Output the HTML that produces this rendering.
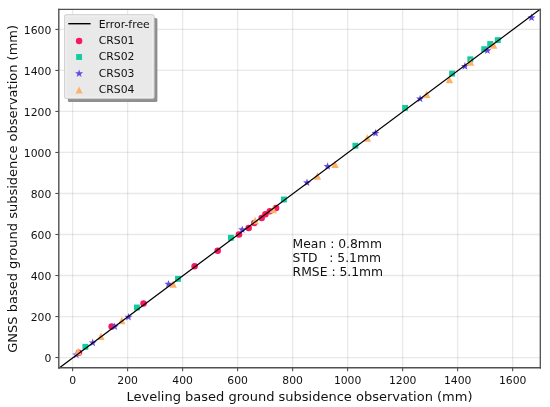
<!DOCTYPE html>
<html><head><meta charset="utf-8"><style>
html,body{margin:0;padding:0;background:#fff;}
svg{display:block;filter:blur(0.3px);}
text{font-family:"DejaVu Sans","Liberation Sans",sans-serif;fill:#111;}
</style></head><body>
<svg width="550" height="407" viewBox="0 0 550 407">
<defs><filter id="sh" x="-10%" y="-10%" width="120%" height="120%"><feGaussianBlur stdDeviation="0.5"/></filter></defs>
<rect width="550" height="407" fill="#fff"/>
<line x1="72.60" y1="8.9" x2="72.60" y2="367.8" stroke="#b0b0b0" stroke-opacity="0.28" stroke-width="1.3"/>
<line x1="58.85" y1="357.55" x2="540.15" y2="357.55" stroke="#b0b0b0" stroke-opacity="0.28" stroke-width="1.3"/>
<line x1="127.61" y1="8.9" x2="127.61" y2="367.8" stroke="#b0b0b0" stroke-opacity="0.28" stroke-width="1.3"/>
<line x1="58.85" y1="316.53" x2="540.15" y2="316.53" stroke="#b0b0b0" stroke-opacity="0.28" stroke-width="1.3"/>
<line x1="182.61" y1="8.9" x2="182.61" y2="367.8" stroke="#b0b0b0" stroke-opacity="0.28" stroke-width="1.3"/>
<line x1="58.85" y1="275.51" x2="540.15" y2="275.51" stroke="#b0b0b0" stroke-opacity="0.28" stroke-width="1.3"/>
<line x1="237.62" y1="8.9" x2="237.62" y2="367.8" stroke="#b0b0b0" stroke-opacity="0.28" stroke-width="1.3"/>
<line x1="58.85" y1="234.49" x2="540.15" y2="234.49" stroke="#b0b0b0" stroke-opacity="0.28" stroke-width="1.3"/>
<line x1="292.62" y1="8.9" x2="292.62" y2="367.8" stroke="#b0b0b0" stroke-opacity="0.28" stroke-width="1.3"/>
<line x1="58.85" y1="193.48" x2="540.15" y2="193.48" stroke="#b0b0b0" stroke-opacity="0.28" stroke-width="1.3"/>
<line x1="347.63" y1="8.9" x2="347.63" y2="367.8" stroke="#b0b0b0" stroke-opacity="0.28" stroke-width="1.3"/>
<line x1="58.85" y1="152.46" x2="540.15" y2="152.46" stroke="#b0b0b0" stroke-opacity="0.28" stroke-width="1.3"/>
<line x1="402.64" y1="8.9" x2="402.64" y2="367.8" stroke="#b0b0b0" stroke-opacity="0.28" stroke-width="1.3"/>
<line x1="58.85" y1="111.44" x2="540.15" y2="111.44" stroke="#b0b0b0" stroke-opacity="0.28" stroke-width="1.3"/>
<line x1="457.64" y1="8.9" x2="457.64" y2="367.8" stroke="#b0b0b0" stroke-opacity="0.28" stroke-width="1.3"/>
<line x1="58.85" y1="70.43" x2="540.15" y2="70.43" stroke="#b0b0b0" stroke-opacity="0.28" stroke-width="1.3"/>
<line x1="512.65" y1="8.9" x2="512.65" y2="367.8" stroke="#b0b0b0" stroke-opacity="0.28" stroke-width="1.3"/>
<line x1="58.85" y1="29.41" x2="540.15" y2="29.41" stroke="#b0b0b0" stroke-opacity="0.28" stroke-width="1.3"/>
<circle cx="78.90" cy="352.80" r="3.25" fill="#f8165e"/>
<circle cx="111.60" cy="326.60" r="3.25" fill="#f8165e"/>
<circle cx="143.50" cy="303.60" r="3.25" fill="#f8165e"/>
<circle cx="194.60" cy="266.30" r="3.25" fill="#f8165e"/>
<circle cx="217.70" cy="250.80" r="3.25" fill="#f8165e"/>
<circle cx="239.00" cy="234.40" r="3.25" fill="#f8165e"/>
<circle cx="248.70" cy="228.10" r="3.25" fill="#f8165e"/>
<circle cx="254.30" cy="223.00" r="3.25" fill="#f8165e"/>
<circle cx="261.70" cy="217.90" r="3.25" fill="#f8165e"/>
<circle cx="265.40" cy="214.20" r="3.25" fill="#f8165e"/>
<circle cx="269.80" cy="211.20" r="3.25" fill="#f8165e"/>
<circle cx="276.10" cy="207.90" r="3.25" fill="#f8165e"/>
<rect x="82.45" y="343.85" width="5.90" height="5.90" fill="#12cb9f"/>
<rect x="133.95" y="304.55" width="5.90" height="5.90" fill="#12cb9f"/>
<rect x="175.05" y="275.95" width="5.90" height="5.90" fill="#12cb9f"/>
<rect x="227.95" y="234.85" width="5.90" height="5.90" fill="#12cb9f"/>
<rect x="280.95" y="196.55" width="5.90" height="5.90" fill="#12cb9f"/>
<rect x="352.45" y="142.75" width="5.90" height="5.90" fill="#12cb9f"/>
<rect x="402.15" y="104.95" width="5.90" height="5.90" fill="#12cb9f"/>
<rect x="449.15" y="70.65" width="5.90" height="5.90" fill="#12cb9f"/>
<rect x="467.35" y="56.35" width="5.90" height="5.90" fill="#12cb9f"/>
<rect x="481.25" y="46.25" width="5.90" height="5.90" fill="#12cb9f"/>
<rect x="487.25" y="41.05" width="5.90" height="5.90" fill="#12cb9f"/>
<rect x="494.85" y="37.15" width="5.90" height="5.90" fill="#12cb9f"/>
<polygon points="76.30,350.60 77.31,353.41 80.29,353.50 77.94,355.33 78.77,358.20 76.30,356.52 73.83,358.20 74.66,355.33 72.31,353.50 75.29,353.41" fill="#6847ea"/>
<polygon points="92.70,338.60 93.71,341.41 96.69,341.50 94.34,343.33 95.17,346.20 92.70,344.52 90.23,346.20 91.06,343.33 88.71,341.50 91.69,341.41" fill="#6847ea"/>
<polygon points="114.70,322.40 115.71,325.21 118.69,325.30 116.34,327.13 117.17,330.00 114.70,328.32 112.23,330.00 113.06,327.13 110.71,325.30 113.69,325.21" fill="#6847ea"/>
<polygon points="128.50,312.90 129.51,315.71 132.49,315.80 130.14,317.63 130.97,320.50 128.50,318.82 126.03,320.50 126.86,317.63 124.51,315.80 127.49,315.71" fill="#6847ea"/>
<polygon points="168.50,279.90 169.51,282.71 172.49,282.80 170.14,284.63 170.97,287.50 168.50,285.82 166.03,287.50 166.86,284.63 164.51,282.80 167.49,282.71" fill="#6847ea"/>
<polygon points="242.20,225.40 243.21,228.21 246.19,228.30 243.84,230.13 244.67,233.00 242.20,231.32 239.73,233.00 240.56,230.13 238.21,228.30 241.19,228.21" fill="#6847ea"/>
<polygon points="307.00,178.50 308.01,181.31 310.99,181.40 308.64,183.23 309.47,186.10 307.00,184.42 304.53,186.10 305.36,183.23 303.01,181.40 305.99,181.31" fill="#6847ea"/>
<polygon points="327.60,162.20 328.61,165.01 331.59,165.10 329.24,166.93 330.07,169.80 327.60,168.12 325.13,169.80 325.96,166.93 323.61,165.10 326.59,165.01" fill="#6847ea"/>
<polygon points="375.50,129.00 376.51,131.81 379.49,131.90 377.14,133.73 377.97,136.60 375.50,134.92 373.03,136.60 373.86,133.73 371.51,131.90 374.49,131.81" fill="#6847ea"/>
<polygon points="420.10,94.70 421.11,97.51 424.09,97.60 421.74,99.43 422.57,102.30 420.10,100.62 417.63,102.30 418.46,99.43 416.11,97.60 419.09,97.51" fill="#6847ea"/>
<polygon points="464.90,62.10 465.91,64.91 468.89,65.00 466.54,66.83 467.37,69.70 464.90,68.02 462.43,69.70 463.26,66.83 460.91,65.00 463.89,64.91" fill="#6847ea"/>
<polygon points="487.40,46.40 488.41,49.21 491.39,49.30 489.04,51.13 489.87,54.00 487.40,52.32 484.93,54.00 485.76,51.13 483.41,49.30 486.39,49.21" fill="#6847ea"/>
<polygon points="531.50,13.50 532.51,16.31 535.49,16.40 533.14,18.23 533.97,21.10 531.50,19.42 529.03,21.10 529.86,18.23 527.51,16.40 530.49,16.31" fill="#6847ea"/>
<polygon points="78.10,347.85 74.35,355.35 81.85,355.35" fill="#fdb26b"/>
<polygon points="100.90,332.55 97.15,340.05 104.65,340.05" fill="#fdb26b"/>
<polygon points="121.80,316.65 118.05,324.15 125.55,324.15" fill="#fdb26b"/>
<polygon points="173.20,280.25 169.45,287.75 176.95,287.75" fill="#fdb26b"/>
<polygon points="255.20,216.85 251.45,224.35 258.95,224.35" fill="#fdb26b"/>
<polygon points="273.10,205.85 269.35,213.35 276.85,213.35" fill="#fdb26b"/>
<polygon points="317.40,172.25 313.65,179.75 321.15,179.75" fill="#fdb26b"/>
<polygon points="335.00,160.45 331.25,167.95 338.75,167.95" fill="#fdb26b"/>
<polygon points="367.30,134.25 363.55,141.75 371.05,141.75" fill="#fdb26b"/>
<polygon points="426.70,90.55 422.95,98.05 430.45,98.05" fill="#fdb26b"/>
<polygon points="449.40,75.75 445.65,83.25 453.15,83.25" fill="#fdb26b"/>
<polygon points="470.50,58.35 466.75,65.85 474.25,65.85" fill="#fdb26b"/>
<polygon points="493.60,41.25 489.85,48.75 497.35,48.75" fill="#fdb26b"/>
<line x1="58.85" y1="368.25" x2="540.15" y2="9.3" stroke="#000" stroke-width="1.25"/>
<line x1="58.3" y1="9.45" x2="540.8" y2="9.45" stroke="#505050" stroke-width="1.2"/>
<line x1="58.1" y1="367.75" x2="541.0" y2="367.75" stroke="#505050" stroke-width="1.5"/>
<line x1="58.8" y1="8.7" x2="58.8" y2="368.5" stroke="#505050" stroke-width="1.4"/>
<line x1="540.3" y1="8.7" x2="540.3" y2="368.5" stroke="#505050" stroke-width="1.3"/>
<line x1="72.60" y1="367.8" x2="72.60" y2="371.3" stroke="#505050" stroke-width="1.1"/>
<line x1="58.85" y1="357.55" x2="55.35" y2="357.55" stroke="#505050" stroke-width="1.1"/>
<text x="72.60" y="383.5" text-anchor="middle" font-size="10.8">0</text>
<text x="51.3" y="362.05" text-anchor="end" font-size="10.8">0</text>
<line x1="127.61" y1="367.8" x2="127.61" y2="371.3" stroke="#505050" stroke-width="1.1"/>
<line x1="58.85" y1="316.53" x2="55.35" y2="316.53" stroke="#505050" stroke-width="1.1"/>
<text x="127.61" y="383.5" text-anchor="middle" font-size="10.8">200</text>
<text x="51.3" y="321.03" text-anchor="end" font-size="10.8">200</text>
<line x1="182.61" y1="367.8" x2="182.61" y2="371.3" stroke="#505050" stroke-width="1.1"/>
<line x1="58.85" y1="275.51" x2="55.35" y2="275.51" stroke="#505050" stroke-width="1.1"/>
<text x="182.61" y="383.5" text-anchor="middle" font-size="10.8">400</text>
<text x="51.3" y="280.01" text-anchor="end" font-size="10.8">400</text>
<line x1="237.62" y1="367.8" x2="237.62" y2="371.3" stroke="#505050" stroke-width="1.1"/>
<line x1="58.85" y1="234.49" x2="55.35" y2="234.49" stroke="#505050" stroke-width="1.1"/>
<text x="237.62" y="383.5" text-anchor="middle" font-size="10.8">600</text>
<text x="51.3" y="238.99" text-anchor="end" font-size="10.8">600</text>
<line x1="292.62" y1="367.8" x2="292.62" y2="371.3" stroke="#505050" stroke-width="1.1"/>
<line x1="58.85" y1="193.48" x2="55.35" y2="193.48" stroke="#505050" stroke-width="1.1"/>
<text x="292.62" y="383.5" text-anchor="middle" font-size="10.8">800</text>
<text x="51.3" y="197.98" text-anchor="end" font-size="10.8">800</text>
<line x1="347.63" y1="367.8" x2="347.63" y2="371.3" stroke="#505050" stroke-width="1.1"/>
<line x1="58.85" y1="152.46" x2="55.35" y2="152.46" stroke="#505050" stroke-width="1.1"/>
<text x="347.63" y="383.5" text-anchor="middle" font-size="10.8">1000</text>
<text x="51.3" y="156.96" text-anchor="end" font-size="10.8">1000</text>
<line x1="402.64" y1="367.8" x2="402.64" y2="371.3" stroke="#505050" stroke-width="1.1"/>
<line x1="58.85" y1="111.44" x2="55.35" y2="111.44" stroke="#505050" stroke-width="1.1"/>
<text x="402.64" y="383.5" text-anchor="middle" font-size="10.8">1200</text>
<text x="51.3" y="115.94" text-anchor="end" font-size="10.8">1200</text>
<line x1="457.64" y1="367.8" x2="457.64" y2="371.3" stroke="#505050" stroke-width="1.1"/>
<line x1="58.85" y1="70.43" x2="55.35" y2="70.43" stroke="#505050" stroke-width="1.1"/>
<text x="457.64" y="383.5" text-anchor="middle" font-size="10.8">1400</text>
<text x="51.3" y="74.93" text-anchor="end" font-size="10.8">1400</text>
<line x1="512.65" y1="367.8" x2="512.65" y2="371.3" stroke="#505050" stroke-width="1.1"/>
<line x1="58.85" y1="29.41" x2="55.35" y2="29.41" stroke="#505050" stroke-width="1.1"/>
<text x="512.65" y="383.5" text-anchor="middle" font-size="10.8">1600</text>
<text x="51.3" y="33.91" text-anchor="end" font-size="10.8">1600</text>
<text x="299.50" y="400.9" text-anchor="middle" font-size="13">Leveling based ground subsidence observation (mm)</text>
<text transform="translate(16.8 188.85) rotate(-90)" x="0" y="0" text-anchor="middle" font-size="13">GNSS based ground subsidence observation (mm)</text>
<text x="292.6" y="247.9" font-size="12.35" xml:space="preserve" style="white-space:pre">Mean : 0.8mm</text>
<text x="292.6" y="261.5" font-size="12.35" xml:space="preserve" style="white-space:pre">STD   : 5.1mm</text>
<text x="292.6" y="275.6" font-size="12.35" xml:space="preserve" style="white-space:pre">RMSE : 5.1mm</text>
<rect x="67.89999999999999" y="18.099999999999998" width="89.5" height="83.89999999999999" rx="1.5" fill="#8f8f8f" filter="url(#sh)"/>
<rect x="64.6" y="14.7" width="89.5" height="83.89999999999999" rx="1.5" fill="#e9e9e9" stroke="#cfcfcf" stroke-width="1.0"/>
<rect x="66.0" y="16.099999999999998" width="86.70" height="81.10" rx="1" fill="none" stroke="#f6f6f6" stroke-width="0.7"/>
<line x1="68.3" y1="23.7" x2="90.6" y2="23.7" stroke="#000" stroke-width="1.4"/>
<text x="98.7" y="27.75" font-size="10.85">Error-free</text>
<text x="98.7" y="44.0" font-size="10.85">CRS01</text>
<text x="98.7" y="60.25" font-size="10.85">CRS02</text>
<text x="98.7" y="76.5" font-size="10.85">CRS03</text>
<text x="98.7" y="92.7" font-size="10.85">CRS04</text>
<circle cx="79.10" cy="40.90" r="3.25" fill="#f8165e"/>
<rect x="76.15" y="54.05" width="5.90" height="5.90" fill="#12cb9f"/>
<polygon points="79.10,69.40 80.11,72.21 83.09,72.30 80.74,74.13 81.57,77.00 79.10,75.32 76.63,77.00 77.46,74.13 75.11,72.30 78.09,72.21" fill="#6847ea"/>
<polygon points="79.10,86.40 75.60,93.40 82.60,93.40" fill="#fdb26b"/>
</svg>
</body></html>
